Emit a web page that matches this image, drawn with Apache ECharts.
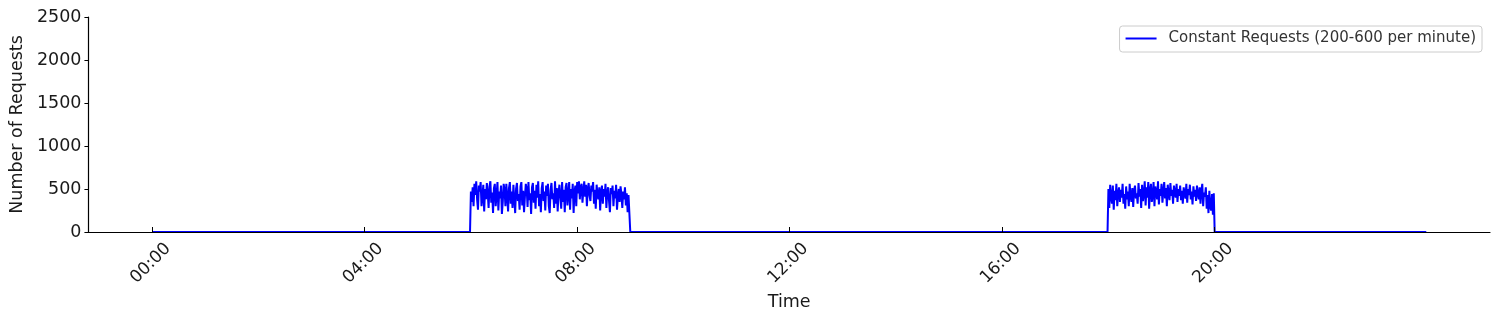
<!DOCTYPE html>
<html>
<head>
<meta charset="utf-8">
<script src="https://cdn.jsdelivr.net/npm/echarts@6/dist/echarts.min.js"></script>
<style>
html,body{margin:0;padding:0;background:#fff;}
#chart{width:1500px;height:323px;}
</style>
</head>
<body>
<div id="chart"></div>
<script>
// ---- data ----
const dayStart = "00:00";
const dayEnd = "23:59";
const stepMinutes = 1;
const morningStart = "06:00";
const morningEnd = "09:00";
const morningValues = [
  470, 350, 520, 300, 560, 430, 590, 380, 260, 540, 470, 580, 300, 410, 550, 240, 500, 380, 570, 450,
  280, 530, 590, 340, 460, 220, 510, 560, 300, 430, 580, 250, 470, 390, 540, 210, 350, 560, 490, 300,
  560, 420, 240, 510, 580, 330, 470, 280, 550, 390, 220, 500, 570, 360, 440, 260, 530, 580, 310, 480,
  230, 410, 560, 500, 290, 580, 370, 450, 210, 520, 570, 340, 480, 270, 550, 400, 590, 300, 440, 230,
  510, 580, 360, 470, 250, 540, 420, 560, 300, 220, 490, 570, 380, 450, 280, 590, 330, 510, 240, 460,
  550, 400, 270, 580, 350, 490, 230, 520, 570, 310, 440, 580, 260, 500, 390, 560, 220, 470, 540, 300,
  580, 450, 590, 380, 520, 560, 340, 480, 590, 410, 550, 300, 500, 570, 420, 360, 540, 470, 580, 330,
  490, 270, 550, 430, 380, 520, 250, 470, 540, 330, 500, 410, 560, 280, 460, 520, 360, 230, 510, 440,
  540, 300, 480, 390, 550, 260, 420, 500, 350, 530, 440, 280, 470, 380, 520, 310, 450, 230, 430, 450
];
const eveningStart = "18:00";
const eveningEnd = "20:00";
const eveningValues = [
  500, 280, 550, 410, 330, 540, 260, 480, 370, 560, 300, 450, 520, 350, 490, 400, 560, 330, 440, 270,
  530, 380, 470, 300, 560, 420, 350, 510, 290, 480, 540, 390, 450, 330, 570, 410, 500, 280, 550, 360,
  440, 590, 310, 520, 400, 580, 270, 490, 560, 350, 430, 580, 300, 530, 460, 380, 590, 320, 500, 420,
  560, 340, 470, 580, 390, 510, 300, 550, 440, 370, 570, 420, 490, 330, 540, 460, 400, 560, 350, 500,
  420, 540, 370, 480, 330, 520, 450, 390, 560, 340, 500, 430, 550, 380, 470, 320, 530, 410, 490, 360,
  540, 440, 380, 520, 330, 480, 560, 300, 460, 410, 520, 270, 430, 220, 480, 300, 250, 440, 200, 450
];
const xTickLabels = ["00:00", "04:00", "08:00", "12:00", "16:00", "20:00"];
const yTickValues = [0, 500, 1000, 1500, 2000, 2500];
const seriesName = "Constant Requests (200-600 per minute)";

// ---- build ----
function toMin(s){ const p = s.split(":"); return (+p[0])*60 + (+p[1]); }
function fmt(m){ const h = Math.floor(m/60), mm = Math.round(m%60); return String(h).padStart(2,"0")+":"+String(mm).padStart(2,"0"); }

const data = [];
data.push([toMin(dayStart), 0]);
data.push([toMin(morningStart) - 1, 0]);
morningValues.forEach((v,i)=>data.push([toMin(morningStart) + i*stepMinutes, v]));
data.push([toMin(morningEnd), 0]);
data.push([toMin(eveningStart) - 1, 0]);
eveningValues.forEach((v,i)=>data.push([toMin(eveningStart) + i*stepMinutes, v]));
data.push([toMin(eveningEnd), 0]);
data.push([toMin(dayEnd), 0]);

const span = toMin(dayEnd) - toMin(dayStart);
const xMin = toMin(dayStart) - span*0.05;
const xMax = toMin(dayEnd) + span*0.05;
const xTickMins = xTickLabels.map(toMin);

const FONT = "DejaVu Sans";
const TXT = "#1a1a1a";

const chart = echarts.init(document.getElementById("chart"), null, {renderer:"canvas"});
chart.setOption({
  animation:false,
  backgroundColor:"#fff",
  grid:{left:86, right:10, top:17, bottom:91, containLabel:false},
  legend:{
    right:18, top:26,
    data:[{name:seriesName, icon:"rect"}],
    itemWidth:31, itemHeight:2, itemGap:10,
    padding:[5,6,6,6],
    borderColor:"#ccc", borderWidth:1, borderRadius:3,
    backgroundColor:"#fff",
    textStyle:{fontFamily:FONT, fontSize:15, color:"#333", padding:[0,0,0,7]}
  },
  xAxis:{
    type:"value", min:xMin, max:xMax,
    name:"Time", nameLocation:"middle", nameGap:59,
    nameTextStyle:{fontFamily:FONT, fontSize:17.5, color:TXT},
    axisLine:{show:true, onZero:false, lineStyle:{color:"#000", width:1.2}},
    axisTick:{show:true, inside:true, length:5, customValues:xTickMins, lineStyle:{color:"#000", width:1}},
    axisLabel:{
      customValues:xTickMins, rotate:45, align:"center", verticalAlign:"middle", margin:30,
      formatter:(v)=>fmt(v), fontFamily:FONT, fontSize:17, color:TXT, padding:[0,4,0,0]
    },
    splitLine:{show:false},
    z:5
  },
  yAxis:{
    type:"value", min:yTickValues[0], max:yTickValues[yTickValues.length-1], interval:500,
    name:"Number of Requests", nameLocation:"middle", nameRotate:90, nameGap:55,
    nameTextStyle:{fontFamily:FONT, fontSize:17.5, color:TXT},
    axisLine:{show:true, onZero:false, lineStyle:{color:"#000", width:1.2}},
    axisTick:{show:true, inside:false, length:4, lineStyle:{color:"#000"}},
    axisLabel:{fontFamily:FONT, fontSize:17.5, color:TXT, margin:7, formatter:(v)=>String(v)},
    splitLine:{show:false}
  },
  series:[{
    name:seriesName, type:"line", data:data, showSymbol:false, symbol:"none",
    lineStyle:{color:"#0000ff", width:2}, itemStyle:{color:"#0000ff"},
    z:1
  }]
});
</script>
</body>
</html>
